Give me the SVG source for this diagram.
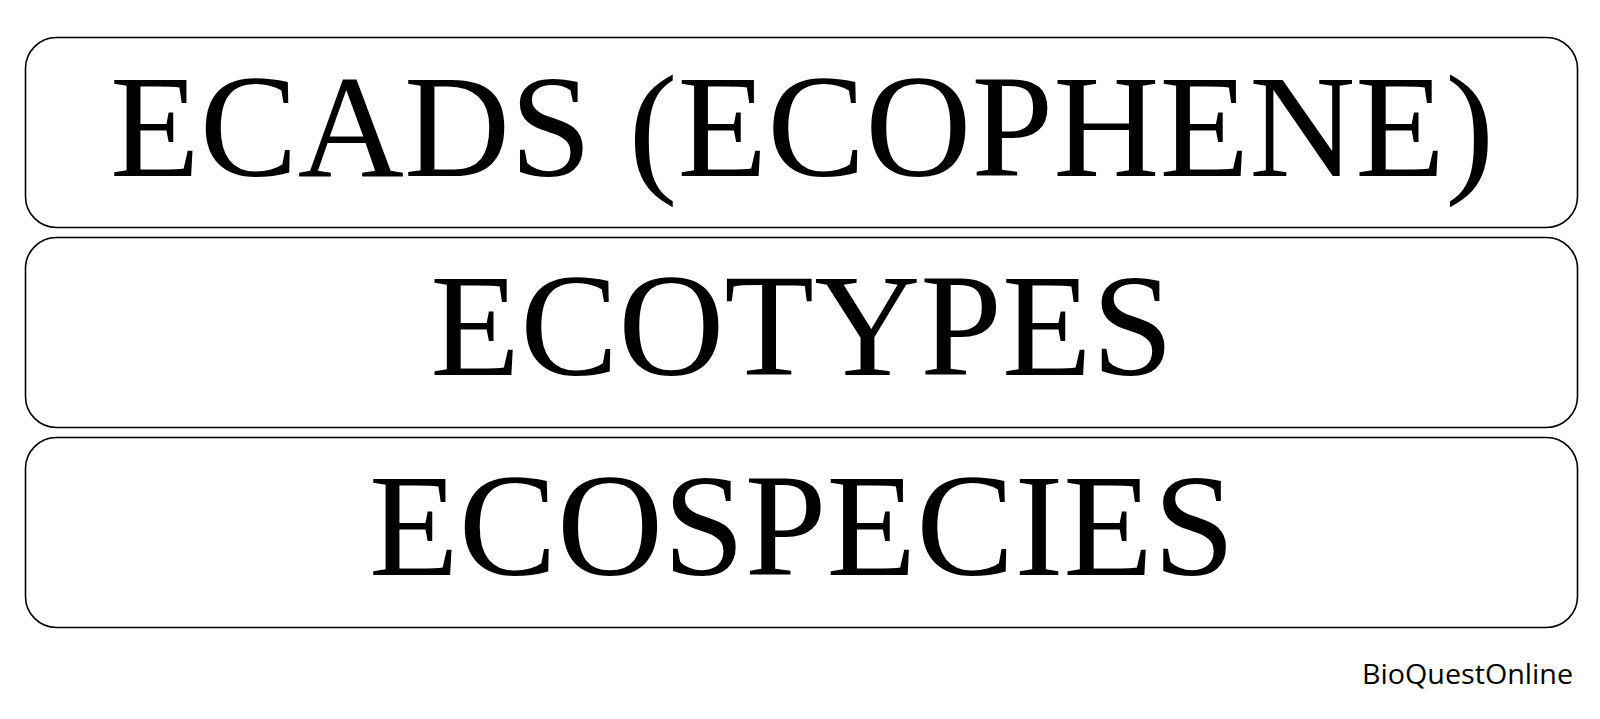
<svg xmlns="http://www.w3.org/2000/svg" width="1600" height="719" viewBox="0 0 1600 719">
<style>
.box{fill:#fff;stroke:#000;stroke-width:1.6}
.lbl{font-family:"Liberation Serif","Times New Roman",serif;font-size:147px;fill:#000;text-anchor:middle}
.credit{font-family:"Open Sans","Liberation Sans",Arial,sans-serif;font-size:27px;fill:#000;text-anchor:end}
</style>
<rect width="1600" height="719" fill="#fff"/>
<g id="connectors"></g>
<g id="node-ecads">
<rect class="box" x="25.5" y="37.5" width="1552" height="190" rx="31" ry="31"/>
<text class="lbl" x="802" y="176">ECADS (ECOPHENE)</text>
</g>
<g id="node-ecotypes">
<rect class="box" x="25.5" y="237.5" width="1552" height="190" rx="31" ry="31"/>
<text class="lbl" x="802" y="375">ECOTYPES</text>
</g>
<g id="node-ecospecies">
<rect class="box" x="25.5" y="437.5" width="1552" height="190" rx="31" ry="31"/>
<text class="lbl" x="802" y="575">ECOSPECIES</text>
</g>
<g id="credit">
<text class="credit" x="1573" y="684" textLength="211" lengthAdjust="spacingAndGlyphs">BioQuestOnline</text>
</g>
</svg>
